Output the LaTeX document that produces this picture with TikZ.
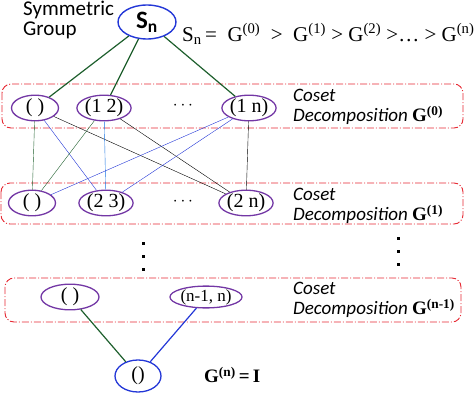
\documentclass[tikz,border=0pt]{standalone}
\usepackage{fontspec}
\setmainfont{Liberation Serif}
\setsansfont{Carlito}
\usetikzlibrary{shapes.geometric}

\definecolor{linkgreen}{RGB}{30,95,45}
\definecolor{linkblue}{RGB}{35,55,215}
\definecolor{permpurple}{RGB}{115,55,165}
\definecolor{cosetred}{RGB}{230,40,50}

\begin{document}
\begin{tikzpicture}[x=1pt,y=-1pt,
    perm/.style={ellipse,draw=permpurple,line width=1.3pt,inner sep=0pt,
      minimum height=23pt,minimum width=47pt,font=\fontsize{20}{20}\selectfont},
    cosetbox/.style={draw=cosetred,line width=0.9pt,rounded corners=9pt,
      dash pattern=on 7pt off 2pt on 1pt off 2pt},
    cosetlabel/.style={anchor=north west,align=left,inner sep=0pt,
      font=\fontsize{19}{20}\selectfont}]

      \useasboundingbox (0,0) rectangle (474,412);

      % Define the positions of the nodes
      \node (sn) at (147,22) [ellipse,draw=linkblue,line width=1.4pt,inner sep=0pt,
        minimum width=58pt,minimum height=34pt,font=\fontsize{25}{25}\selectfont]
        {\sffamily\bfseries S\textsubscript{n}};
      \node (symtext) at (23,1) [anchor=north west,align=left,inner sep=0pt,
        font=\fontsize{21}{20}\selectfont] {\sffamily Symmetric\\\sffamily Group};
      \node (chain) at (182,34) [anchor=west,inner sep=0pt,font=\fontsize{21}{21}\selectfont]
        {S\textsubscript{n}\,= \ G\textsuperscript{(0)} \ > \ G\textsuperscript{(1)} > G\textsuperscript{(2)} >\dots\ > G\textsuperscript{(n)}};

      % Coset boxes
      \draw[cosetbox] (2,84) rectangle (463,128);
      \draw[cosetbox] (1,183) rectangle (463,224);
      \draw[cosetbox] (5,278) rectangle (461,322);

      \node (e0) at (35,108) [perm] {( )};
      \node (p12) at (104,108) [perm,minimum width=53pt] {(1 2)};
      \node (dots0) at (183,106) [font=\fontsize{18}{18}\selectfont] {$\cdots$};
      \node (p1n) at (249,108) [perm,minimum width=54pt] {(1 n)};
      \node (lab0) at (293,89) [cosetlabel] {\sffamily\itshape Coset\\\sffamily\itshape Decomposition\ \upshape\rmfamily\bfseries G\textsuperscript{(0)}};

      \node (e1) at (32,203) [perm] {( )};
      \node (p23) at (106,203) [perm,minimum width=53pt] {(2 3)};
      \node (dots1) at (183,202) [font=\fontsize{18}{18}\selectfont] {$\cdots$};
      \node (p2n) at (246,203) [perm,minimum width=53pt] {(2 n)};
      \node (lab1) at (293,188) [cosetlabel] {\sffamily\itshape Coset\\\sffamily\itshape Decomposition\ \upshape\rmfamily\bfseries G\textsuperscript{(1)}};

      \node (e2) at (70,297) [perm,minimum width=58pt,minimum height=20pt] {( )};
      \node (pn) at (206,297) [perm,minimum width=60pt,minimum height=20pt,
        font=\fontsize{17}{17}\selectfont] {(n-1, n)};
      \node (lab2) at (293,282) [cosetlabel] {\sffamily\itshape Coset\\\sffamily\itshape Decomposition\ \upshape\rmfamily\bfseries G\textsuperscript{(n-1)}};

      \node (id) at (138,376) [ellipse,draw=linkblue,line width=1.3pt,inner sep=0pt,
        minimum width=46pt,minimum height=32pt,font=\fontsize{20}{20}\selectfont] {()};
      \node (gn) at (204,375) [anchor=west,inner sep=0pt,font=\fontsize{19}{19}\selectfont]
        {\bfseries G\textsuperscript{(n)}\,=\,I};

      % vertical dots
      \foreach \y in {242,255,268} \fill (141.5,\y) rectangle +(3,3);
      \foreach \y in {237,250,263} \fill (396.5,\y) rectangle +(3,3);

      % Draw the edges
      \draw[linkgreen,line width=1.2pt] (sn) -- (e0);
      \draw[linkgreen,line width=1.2pt] (sn) -- (p12);
      \draw[linkgreen,line width=1.2pt] (sn) -- (p1n);

      \draw[linkgreen] (e0) -- (e1);
      \draw[linkblue] (e0) -- (p23);
      \draw (e0) -- (p2n);
      \draw[linkgreen] (p12) -- (e1);
      \draw[linkblue!70!cyan] (p12) -- (p23);
      \draw (p12) -- (p2n);
      \draw[linkblue] (p1n) -- (e1);
      \draw[linkblue] (p1n) -- (p23);
      \draw (p1n) -- (p2n);

      \draw[linkgreen,line width=1.2pt] (e2) -- (id);
      \draw[linkblue,line width=1.2pt] (pn) -- (id);
  \end{tikzpicture}
\end{document}
